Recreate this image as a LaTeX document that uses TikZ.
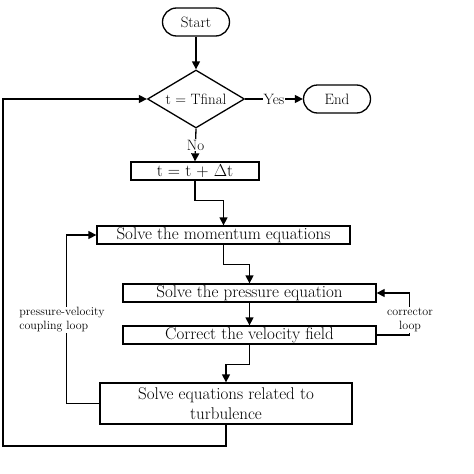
\documentclass[tikz,border=0pt]{standalone}
\usetikzlibrary{shapes.geometric,arrows.meta}
\begin{document}
\begin{tikzpicture}[x=1pt,y=-1pt,
 every node/.style={font=\fontsize{15}{17.5}\selectfont},
 box/.style={draw,line width=1.3pt,inner sep=0pt,anchor=center},
 term/.style={box,rounded corners=14pt,minimum width=67pt,minimum height=28pt},
 boxfont/.style={font=\fontsize{17}{19.5}\selectfont},
 proc/.style={box,boxfont,minimum width=253pt,minimum height=18pt},
 arr/.style={line width=1.3pt,-{Triangle[length=8pt,width=8pt]}},
 small/.style={font=\fontsize{12}{14}\selectfont,fill=white,inner sep=1pt,align=left}]
\useasboundingbox (0,0) rectangle (474,474);
\node[term] (start) at (196,22) {Start};
\node[box,diamond,aspect=1.67,minimum width=97pt,minimum height=58pt] (dec) at (196,99) {t = Tfinal};
\node[term] (end) at (337,99) {End};
\node[box,boxfont,minimum width=128pt,minimum height=18pt] (tstep) at (195,171) {t = t + $\Delta$t};
\node[proc] (mom) at (223.5,235) {Solve the momentum equations};
\node[proc] (pres) at (249.5,293) {Solve the pressure equation};
\node[proc] (corr) at (249.5,335) {Correct the velocity field};
\node[box,boxfont,minimum width=252pt,minimum height=41pt,align=center] (turb) at (226,403.5) {Solve equations related to\\turbulence};
\coordinate (ol) at (3,446);

\draw[arr] (start) -- (dec);
\draw[arr] (dec.east) -- node[fill=white,inner sep=1pt] {Yes} (end.west);
\draw[arr] (dec.south) -- node[fill=white,inner sep=1pt] {No} (tstep.north);
\draw[arr] (tstep.south) -- ++(0,20) -| (mom.north);
\draw[arr] (mom.south) -- ++(0,20) -| (pres.north);
\draw[arr] (pres) -- (corr);
\draw[arr] (corr.south) -- ++(0,20) -| (turb.north);
\draw[arr] (turb.west) -- ++(-33,0) |- (mom.west);
\draw[arr] (corr.east) -- ++(33,0) |- (pres.east);
\draw[arr] (turb.south) |- (ol) |- (dec.west);
\node[small] (pvl) at (62,320) {pressure-velocity\\coupling loop};
\node[small,align=center] (cl) at (410,320) {corrector\\loop};
\end{tikzpicture}
\end{document}
